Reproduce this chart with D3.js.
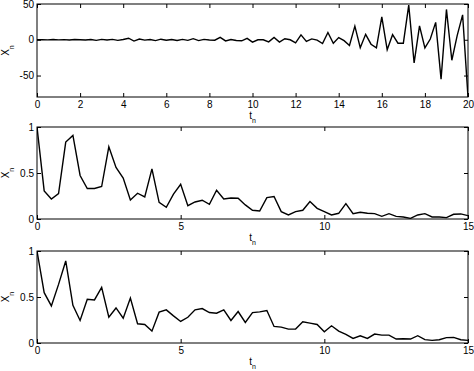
<!DOCTYPE html>
<html>
<head>
<meta charset="utf-8">
<script src="https://cdn.jsdelivr.net/npm/d3@7"></script>
<style>
    body { margin: 0; background: #fff; }
    svg text { font-family: "Liberation Sans", Arial, sans-serif; fill: #000; }
</style>
</head>
<body>
<div id="wrapper"></div>
<script>
// sampling step of every series (t_n)
const timeStep = 0.25;

// x_n of the top panel, t = 0 .. 20 (one row per unit of t)
const topValues = [
    0, 0.2, -0.2, 0.3,
    -0.1, 0.2, -0.4, 0.3,
    0.1, -0.3, 0.4, -0.8,
    0.6, -0.3, 0.5, -0.9,
    0.4, 2.2, -1.8, 1.0,
    -0.5, 0.3, -1.2, 0.8,
    -0.6, 0.4, -1.0, 0.6,
    -0.8, 1.5, -1.2, 0.5,
    -0.4, -0.6, 3.3, -1.6,
    0.4, -1.0, -1.4, 1.9,
    -3.3, 0, 0, -2.9,
    3.3, -3.3, 1.4, 0,
    -4.3, 6.8, -2.4, 1.2,
    -0.5, -5.2, 10.2, -4.8,
    3.1, -1.2, -8, 19,
    -11, 7.6, -6.2, -11.4,
    31.9, -13.8, 7.1, -4.8,
    -4.8, 48.5, -32.4, 19.5,
    -11.4, 1, 24.3, -55,
    42.4, -28.6, 6.2, 34.8,
    -80
];

// x_n of the middle panel, t = 0 .. 15
const middleValues = [
    1.0, 0.305, 0.218, 0.276,
    0.836, 0.909, 0.473, 0.331,
    0.331, 0.353, 0.785, 0.56,
    0.444, 0.207, 0.28, 0.24,
    0.545, 0.18, 0.127, 0.27,
    0.378, 0.145, 0.185, 0.204,
    0.16, 0.313, 0.218, 0.229,
    0.225, 0.153, 0.095, 0.087,
    0.233, 0.244, 0.08, 0.044,
    0.08, 0.095, 0.19, 0.116,
    0.08, 0.044, 0.062, 0.167,
    0.058, 0.073, 0.062, 0.058,
    0.029, 0.058, 0.029, 0.022,
    0.007, 0.044, 0.058, 0.022,
    0.022, 0.015, 0.051, 0.055,
    0.036
];

// x_n of the bottom panel, t = 0 .. 15
const bottomValues = [
    1.0, 0.547, 0.403, 0.637,
    0.892, 0.41, 0.245, 0.475,
    0.468, 0.604, 0.28, 0.381,
    0.27, 0.489, 0.209, 0.201,
    0.129, 0.335, 0.36, 0.295,
    0.234, 0.28, 0.36, 0.374,
    0.331, 0.324, 0.36, 0.245,
    0.342, 0.223, 0.331, 0.338,
    0.353, 0.18, 0.173, 0.151,
    0.151, 0.23, 0.216, 0.201,
    0.122, 0.187, 0.129, 0.094,
    0.05, 0.079, 0.05, 0.097,
    0.086, 0.086, 0.043, 0.047,
    0.043, 0.079, 0.036, 0.029,
    0.036, 0.058, 0.061, 0.036,
    0.029
];

const topXTicks = [0, 2, 4, 6, 8, 10, 12, 14, 16, 18, 20];
const topYTicks = [-50, 0, 50];
const lowerXTicks = [0, 5, 10, 15];
const lowerYTicks = [0, 0.5, 1];

const dimensions = {
    width: 474,
    height: 371,
    left: 37,
    right: 468,
};

const panels = [
    { values: topValues, xDomain: [0, 20], yDomain: [-80, 50], xTicks: topXTicks, yTicks: topYTicks, top: 4, bottom: 97 },
    { values: middleValues, xDomain: [0, 15], yDomain: [0, 1], xTicks: lowerXTicks, yTicks: lowerYTicks, top: 127, bottom: 219 },
    { values: bottomValues, xDomain: [0, 15], yDomain: [0, 1], xTicks: lowerXTicks, yTicks: lowerYTicks, top: 251, bottom: 343 },
];

const svg = d3.select('#wrapper')
    .append('svg')
    .attr('width', dimensions.width)
    .attr('height', dimensions.height);

const fmt = d => String(d).replace('\u2212', '-');

panels.forEach((p, i) => {
    const xScale = d3.scaleLinear()
        .domain(p.xDomain)
        .range([dimensions.left, dimensions.right]);
    const yScale = d3.scaleLinear()
        .domain(p.yDomain)
        .range([p.bottom, p.top]);

    const g = svg.append('g');

    // clip so the line stays inside the box
    svg.append('clipPath')
        .attr('id', 'clip' + i)
        .append('rect')
        .attr('x', dimensions.left)
        .attr('y', p.top)
        .attr('width', dimensions.right - dimensions.left)
        .attr('height', p.bottom - p.top);

    const points = p.values.map((v, k) => ({ t: k * timeStep, x: v }));

    const line = d3.line()
        .x(d => xScale(d.t))
        .y(d => yScale(d.x));

    g.append('path')
        .attr('d', line(points))
        .attr('clip-path', `url(#clip${i})`)
        .attr('fill', 'none')
        .attr('stroke', '#000')
        .attr('stroke-width', 1.4)
        .attr('stroke-linejoin', 'miter');

    // axes with inward ticks on all four sides (matlab style)
    const bottomAxis = d3.axisBottom(xScale).tickValues(p.xTicks).tickFormat(fmt)
        .tickSize(-4).tickSizeOuter(0).tickPadding(4);
    const topAxis = d3.axisTop(xScale).tickValues(p.xTicks).tickFormat('')
        .tickSize(-4).tickSizeOuter(0);
    const leftAxis = d3.axisLeft(yScale).tickValues(p.yTicks).tickFormat(fmt)
        .tickSize(-4).tickSizeOuter(0).tickPadding(3);
    const rightAxis = d3.axisRight(yScale).tickValues(p.yTicks).tickFormat('')
        .tickSize(-4).tickSizeOuter(0);

    const axes = [
        g.append('g').attr('transform', `translate(0,${p.bottom})`).call(bottomAxis),
        g.append('g').attr('transform', `translate(0,${p.top})`).call(topAxis),
        g.append('g').attr('transform', `translate(${dimensions.left},0)`).call(leftAxis),
        g.append('g').attr('transform', `translate(${dimensions.right},0)`).call(rightAxis),
    ];
    axes.forEach(a => {
        a.select('.domain').remove();
        a.selectAll('line').attr('stroke', '#000');
        a.selectAll('text').attr('font-size', 10).attr('font-family', '"Liberation Sans", Arial, sans-serif');
    });

    g.append('rect')
        .attr('x', dimensions.left)
        .attr('y', p.top)
        .attr('width', dimensions.right - dimensions.left)
        .attr('height', p.bottom - p.top)
        .attr('fill', 'none')
        .attr('stroke', '#000')
        .attr('stroke-width', 1);

    // x label t_n
    const xl = g.append('text')
        .attr('x', (dimensions.left + dimensions.right) / 2)
        .attr('y', p.bottom + 22)
        .attr('text-anchor', 'middle')
        .attr('font-size', 10);
    xl.append('tspan').text('t');
    xl.append('tspan').attr('dy', 4).attr('font-size', 7).text('n');

    // y label X_n
    const yl = g.append('text')
        .attr('transform', `translate(9,${(p.top + p.bottom) / 2}) rotate(-90)`)
        .attr('text-anchor', 'middle')
        .attr('font-size', 10);
    yl.append('tspan').text('X');
    yl.append('tspan').attr('dy', 5).attr('font-size', 7).text('n');
});
</script>
</body>
</html>
